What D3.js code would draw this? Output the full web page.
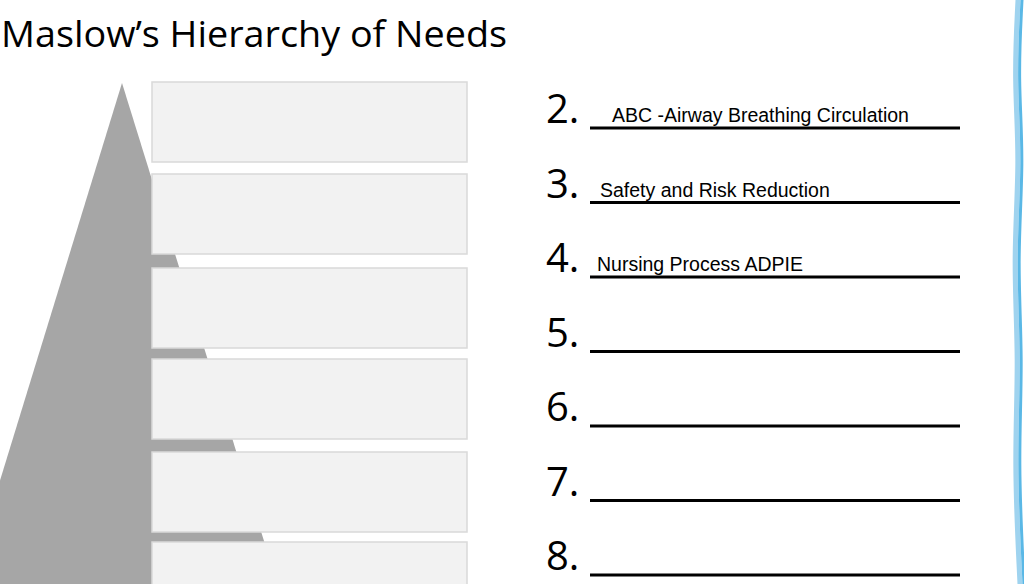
<!DOCTYPE html>
<html><head><meta charset="utf-8">
<script src="https://cdn.jsdelivr.net/npm/d3@7/dist/d3.min.js"></script>
<style>body{margin:0;background:#fff;overflow:hidden}</style>
</head><body><svg id="c" width="1024" height="584"></svg>
<script>
const title = "Maslow’s Hierarchy of Needs";
const numbers = ["2.","3.","4.","5.","6.","7.","8."];
const answers = ["ABC -Airway Breathing Circulation","Safety and Risk Reduction","Nursing Process ADPIE","","","",""];
const answerOffsets = [22,10,7,0,0,0,0];
const boxTops = [82,174,268,359,452,542];

const svg = d3.select("#c");
svg.append("text").attr("x",1).attr("y",47).attr("font-family","Open Sans, sans-serif")
  .attr("font-size",36).attr("textLength",506).attr("lengthAdjust","spacingAndGlyphs")
  .attr("fill","#000").text(title);

// pyramid
const slope = 0.31;
const apex = [122,83];
const yb = 584;
svg.append("path").attr("fill","#a6a6a6")
  .attr("d",`M${apex[0]},${apex[1]} L${apex[0]+(yb-apex[1])*slope},${yb} L${apex[0]-(yb-apex[1])*0.307},${yb} Z`);

svg.selectAll("rect.box").data(boxTops).join("rect")
  .attr("x",152).attr("y",d=>d).attr("width",315).attr("height",80)
  .attr("fill","#f2f2f2").attr("stroke","#d9d9d9").attr("stroke-width",1.5);

const y = d3.scalePoint().domain(numbers).range([123,570]);
const g = svg.selectAll("g.row").data(numbers).join("g");
g.append("text").attr("x",546).attr("y",d=>y(d)).attr("font-family","Open Sans, sans-serif")
  .attr("font-size",40).text(d=>d);
g.append("line").attr("x1",590).attr("x2",960).attr("y1",d=>y(d)+5).attr("y2",d=>y(d)+5)
  .attr("stroke","#000").attr("stroke-width",3);
g.append("text").attr("x",(d,i)=>590+answerOffsets[i]).attr("y",d=>y(d)-1)
  .attr("font-family","Liberation Sans, Arial, sans-serif").attr("font-size",19.5)
  .text((d,i)=>answers[i]);

// right-edge decoration
const wav = d3.line().curve(d3.curveBasis);
[[1018,"#9fd3ef",5],[1022,"#5ab8e6",3]].forEach(([x0,c,w])=>{
  svg.append("path").attr("fill","none").attr("stroke",c).attr("stroke-width",w)
   .attr("d",wav([[x0,0],[x0-4,80],[x0+2,160],[x0-5,260],[x0+1,360],[x0-4,460],[x0+2,584]]));
});
</script></body></html>
